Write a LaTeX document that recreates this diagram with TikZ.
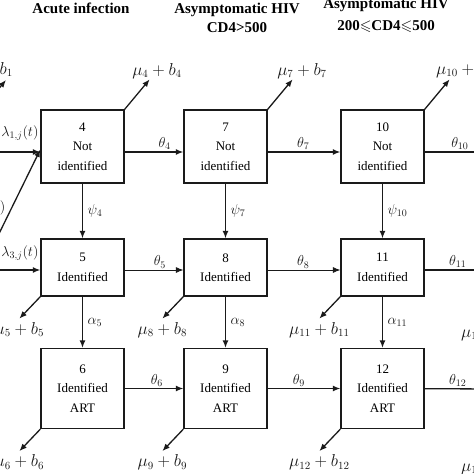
\documentclass[tikz,border=0pt]{standalone}
\usepackage{amsmath,amssymb}
\usepackage{fontspec}
\setmainfont{Liberation Serif}
\usetikzlibrary{arrows.meta}
\definecolor{hvInk}{HTML}{1A1A1A}
\tikzset{
  state/.style    ={draw=hvInk,line width=1.3pt,fill=white,minimum width=83pt,
                    inner sep=0pt,align=center,font=\fontsize{13}{19.5}\selectfont},
  flow/.style     ={-{Latex[length=7.5pt,width=6pt]},hvInk,line width=1.3pt},
  thinflow/.style ={flow,line width=0.7pt},
  rate/.style     ={font=\fontsize{14.5}{14.5}\selectfont,text=hvInk,inner sep=1.5pt},
  loss/.style     ={font=\fontsize{16}{16}\selectfont,text=hvInk,inner sep=1pt},
  head/.style     ={font=\fontsize{15}{18.5}\selectfont\bfseries,align=center,inner sep=0pt},
}
\begin{document}
\begin{tikzpicture}[x=1pt,y=-1pt]
\useasboundingbox (0,0) rectangle (474,474);
\clip (0,0) rectangle (474,474);

%% stage headers
\node[head] (hAcute) at (81,8) {Acute infection};
\node[head] (hHigh) at (237,18) {Asymptomatic HIV\\CD4>500};
\node[head] (hMid) at (386,15.5) {Asymptomatic HIV\\[4pt]200$\leqslant$CD4$\leqslant$500};

%% compartments
\node[state,minimum height=73pt] (s4)  at (82.5,146.5)  {4\\Not\\identified};
\node[state,minimum height=73pt] (s7)  at (225.5,146.5) {7\\Not\\identified};
\node[state,minimum height=73pt] (s10) at (382.5,146.5) {10\\Not\\identified};
\node[state,minimum height=57pt] (s5)  at (82.5,267.5)  {5\\Identified};
\node[state,minimum height=57pt] (s8)  at (225.5,267.5) {8\\Identified};
\node[state,minimum height=57pt] (s11) at (382.5,267.5) {11\\Identified};
\node[state,minimum height=80pt] (s6)  at (82.5,388.5)  {6\\Identified\\ART};
\node[state,minimum height=80pt] (s9)  at (225.5,388.5) {9\\Identified\\ART};
\node[state,minimum height=80pt] (s12) at (382.5,388.5) {12\\Identified\\ART};

%% ends outside the frame
\coordinate (inA) at (-5,152);
\coordinate (inB) at (-10,252);
\coordinate (inC) at (-5,270);
\coordinate (cornerA) at (-19,110);
\coordinate (outA) at (495,152);
\coordinate (outB) at (495,270);
\coordinate (outC) at (495,389);

%% infection inflows
\draw[flow,line width=1.5pt] (inA) -- node[rate,above=9pt,pos=0.55]{$\lambda_{1,j}(t)$} ([yshift=-5.5pt]s4.west);
\draw[flow] (inB) -- ([yshift=-3pt]s4.west);
\node[rate,anchor=east] (lamB) at (7,208) {$\lambda_{2,j}(t)$};
\draw[flow] (inC) -- node[rate,above=7pt,pos=0.55]{$\lambda_{3,j}(t)$} ([yshift=-2.5pt]s5.west);

%% progression
\draw[flow] ([yshift=-5.5pt]s4.east) -- node[rate,above,pos=0.68]{$\theta_4$} ([yshift=-5.5pt]s7.west);
\draw[flow] ([yshift=-5.5pt]s7.east) -- node[rate,above,pos=0.49]{$\theta_7$} ([yshift=-5.5pt]s10.west);
\draw[flow] ([yshift=-5.5pt]s10.east) -- node[rate,above,pos=0.5]{$\theta_{10}$} (outA);
\draw[thinflow] ([yshift=-2.5pt]s5.east) -- node[rate,above,pos=0.6]{$\theta_5$} ([yshift=-2.5pt]s8.west);
\draw[thinflow] ([yshift=-2.5pt]s8.east) -- node[rate,above,pos=0.49]{$\theta_8$} ([yshift=-2.5pt]s11.west);
\draw[flow] ([yshift=-2.5pt]s11.east) -- node[rate,above,pos=0.47]{$\theta_{11}$} (outB);
\draw[flow] (s6) -- node[rate,above,pos=0.55]{$\theta_6$} (s9);
\draw[flow] (s9) -- node[rate,above,pos=0.43]{$\theta_9$} (s12);
\draw[flow] (s12) -- node[rate,above,pos=0.47]{$\theta_{12}$} (outC);

%% identification and treatment
\draw[flow] (s4) -- node[rate,right=3pt]{$\psi_4$} (s5);
\draw[flow] (s7) -- node[rate,right=3pt]{$\psi_7$} (s8);
\draw[flow] (s10) -- node[rate,right=3pt]{$\psi_{10}$} (s11);
\draw[flow] (s5) -- node[rate,right=3pt]{$\alpha_5$} (s6);
\draw[flow] (s8) -- node[rate,right=3pt]{$\alpha_8$} (s9);
\draw[flow] (s11) -- node[rate,right=3pt]{$\alpha_{11}$} (s12);

%% deaths and drop-out
\draw[flow] (cornerA) -- ++(25,-30);
\node[loss,anchor=east] (mu1) at (14,70) {$\mu_1+b_1$};
\draw[flow] (s4.north east) -- ++(25,-30);
\node[loss] (mu4) at (157,71) {$\mu_4+b_4$};
\draw[flow] (s7.north east) -- ++(25,-30);
\node[loss] (mu7) at (302,71) {$\mu_7+b_7$};
\draw[flow] (s10.north east) -- ++(25,-30);
\node[loss,anchor=west] (mu10) at (435,70) {$\mu_{10}+b_{10}$};
\draw[flow] (s5.south west) -- ++(-21,22) node[loss,below=2pt]{$\mu_5+b_5$};
\draw[flow] (s8.south west) -- ++(-21,22) node[loss,below=2pt]{$\mu_8+b_8$};
\draw[flow] (s11.south west) -- ++(-21,22) node[loss,below=2pt]{$\mu_{11}+b_{11}$};
\draw[flow] (s6.south west) -- ++(-21,22) node[loss,below=2pt]{$\mu_6+b_6$};
\draw[flow] (s9.south west) -- ++(-21,22) node[loss,below=2pt]{$\mu_9+b_9$};
\draw[flow] (s12.south west) -- ++(-21,22) node[loss,below=2pt]{$\mu_{12}+b_{12}$};
\node[loss,anchor=west] (mu14) at (460,333) {$\mu_{14}+b_{14}$};
\node[loss,anchor=west] (mu15) at (460,467) {$\mu_{15}+b_{15}$};
\end{tikzpicture}
\end{document}
